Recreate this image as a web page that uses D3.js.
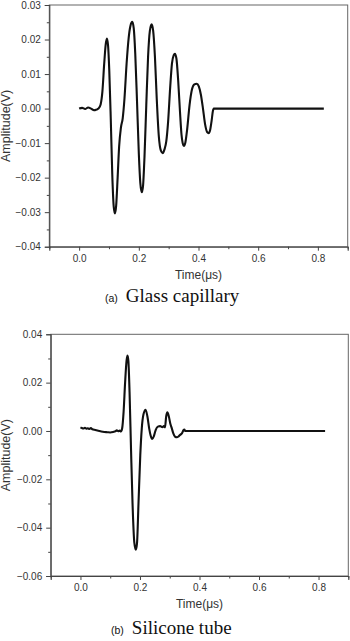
<!DOCTYPE html>
<html><head><meta charset="utf-8">
<script src="https://cdn.jsdelivr.net/npm/d3@7"></script>
<style>
html,body{margin:0;padding:0;background:#fff;}
svg{display:block;}
</style></head>
<body>
<svg id="c" width="350" height="641"></svg>
<script>
// ---------- DATA ----------
// Panel (a) Glass capillary
const timeA = [0.000,0.010,0.020,0.030,0.040,0.050,0.058,0.065,0.072,0.078,0.084,0.089,0.093,0.097,0.101,0.106,0.111,0.116,0.120,0.124,0.129,0.134,0.140,0.146,0.152,0.159,0.166,0.172,0.178,0.183,0.188,0.194,0.200,0.205,0.210,0.214,0.219,0.225,0.231,0.237,0.243,0.248,0.254,0.260,0.267,0.274,0.280,0.286,0.292,0.298,0.305,0.311,0.317,0.321,0.326,0.332,0.338,0.343,0.347,0.351,0.356,0.362,0.370,0.378,0.386,0.394,0.401,0.408,0.415,0.422,0.429,0.434,0.439,0.444,0.448,0.451,0.820];
const ampA  = [0.0000,0.0002,-0.0001,0.0003,0.0000,-0.0005,-0.0003,0.0000,0.0012,0.0050,0.0130,0.0185,0.0203,0.0182,0.0110,-0.0030,-0.0190,-0.0285,-0.0304,-0.0282,-0.0200,-0.0110,-0.0055,-0.0028,0.0030,0.0130,0.0205,0.0240,0.0251,0.0232,0.0160,0.0020,-0.0130,-0.0215,-0.0242,-0.0225,-0.0140,0.0010,0.0150,0.0225,0.0244,0.0226,0.0150,0.0030,-0.0080,-0.0122,-0.0129,-0.0118,-0.0095,-0.0040,0.0060,0.0130,0.0155,0.0159,0.0145,0.0080,-0.0010,-0.0075,-0.0100,-0.0108,-0.0098,-0.0060,0.0010,0.0055,0.0070,0.0072,0.0064,0.0040,0.0000,-0.0045,-0.0068,-0.0071,-0.0062,-0.0035,-0.0008,0.0000,0.0000];
// Panel (b) Silicone tube
const timeB = [0.000,0.005,0.010,0.015,0.020,0.025,0.030,0.035,0.040,0.050,0.060,0.070,0.080,0.090,0.100,0.110,0.118,0.122,0.127,0.132,0.136,0.140,0.145,0.150,0.155,0.158,0.161,0.165,0.170,0.175,0.181,0.186,0.190,0.195,0.201,0.206,0.212,0.219,0.225,0.231,0.236,0.241,0.247,0.253,0.260,0.268,0.275,0.280,0.284,0.288,0.292,0.297,0.302,0.306,0.312,0.318,0.324,0.330,0.336,0.341,0.346,0.349,0.352,0.822];
const ampB  = [0.0015,0.0012,0.0010,0.0013,0.0009,0.0011,0.0008,0.0012,0.0007,0.0004,0.0001,-0.0002,-0.0004,-0.0005,-0.0006,-0.0004,-0.0001,0.0003,-0.0001,0.0002,-0.0002,0.0010,0.0080,0.0200,0.0292,0.0312,0.0290,0.0160,-0.0080,-0.0300,-0.0462,-0.0491,-0.0465,-0.0300,-0.0100,0.0010,0.0070,0.0088,0.0060,0.0010,-0.0020,-0.0033,-0.0020,0.0005,0.0018,0.0020,0.0016,0.0020,0.0015,0.0060,0.0077,0.0060,0.0030,0.0015,-0.0010,-0.0024,-0.0026,-0.0022,-0.0015,-0.0010,0.0003,0.0006,0.0000,0.0000];

const xDomain = [-0.1, 0.9];
const xMajor = [0.0, 0.2, 0.4, 0.6, 0.8];
const xMinor = [-0.1, 0.1, 0.3, 0.5, 0.7, 0.9];
const yDomainA = [-0.04, 0.03];
const yMajorA = [-0.04,-0.03,-0.02,-0.01,0.00,0.01,0.02,0.03];
const yMinorA = [-0.035,-0.025,-0.015,-0.005,0.005,0.015,0.025];
const yDomainB = [-0.06, 0.04];
const yMajorB = [-0.06,-0.04,-0.02,0.00,0.02,0.04];
const yMinorB = [-0.05,-0.03,-0.01,0.01,0.03];
const xTitle = "Time(μs)";
const yTitle = "Amplitude(V)";
const captionTagA = "(a)", captionA = "Glass capillary";
const captionTagB = "(b)", captionB = "Silicone tube";

// ---------- DRAW ----------
const svg = d3.select("#c");
const SANS = "'Liberation Sans', Arial, sans-serif";
const SERIF = "'Liberation Serif', 'Times New Roman', serif";

function panel(o){
  const x = d3.scaleLinear().domain(xDomain).range([o.left, o.right]);
  const y = d3.scaleLinear().domain(o.yDomain).range([o.bottom, o.top]);
  const g = svg.append("g");

  g.append("rect").attr("x", o.left).attr("y", o.top)
    .attr("width", o.right - o.left).attr("height", o.bottom - o.top)
    .attr("fill","none").attr("stroke","#666").attr("stroke-width",1);

  const fmtY = d3.format(".2f"), fmtX = d3.format(".1f");
  g.append("g").attr("transform",`translate(0,${o.bottom})`)
    .call(d3.axisBottom(x).tickValues(xMajor).tickSize(4).tickPadding(4).tickFormat(fmtX));
  g.append("g").attr("transform",`translate(0,${o.bottom})`)
    .call(d3.axisBottom(x).tickValues(xMinor).tickSize(2.5).tickFormat(""))
    .call(s=>s.select(".domain").remove());
  g.append("g").attr("transform",`translate(${o.left},0)`)
    .call(d3.axisLeft(y).tickValues(o.yMajor).tickSize(4.5).tickPadding(4).tickFormat(fmtY));
  g.append("g").attr("transform",`translate(${o.left},0)`)
    .call(d3.axisLeft(y).tickValues(o.yMinor).tickSize(2.5).tickFormat(""))
    .call(s=>s.select(".domain").remove());

  g.selectAll(".domain").attr("stroke","#444").attr("stroke-width",1.1);
  g.selectAll(".tick line").attr("stroke","#444").attr("stroke-width",1);
  g.selectAll(".tick text").attr("fill","#333").style("font-family",SANS).style("font-size","10px");

  const pts = o.t.map((t,i)=>[t,o.v[i]]);
  const line = d3.line().x(d=>x(d[0])).y(d=>y(d[1])).curve(d3.curveMonotoneX);
  g.append("path").datum(pts).attr("d",line)
    .attr("fill","none").attr("stroke","#111").attr("stroke-width",2.1)
    .attr("stroke-linejoin","round");

  g.append("text").attr("x",x(0.4)).attr("y",o.bottom+32)
    .attr("text-anchor","middle").attr("fill","#333")
    .style("font-family",SANS).style("font-size","12px").text(xTitle);
  g.append("text").attr("transform",`translate(9.5,${(o.top+o.bottom)/2}) rotate(-90)`)
    .attr("text-anchor","middle").attr("fill","#333")
    .style("font-family",SANS).style("font-size","12.5px").text(yTitle);

  const cap = g.append("text").attr("y",o.capY).attr("fill","#111");
  cap.append("tspan").attr("x",o.capX).style("font-family",SANS).style("font-size","10.5px").text(o.tag);
  cap.append("tspan").attr("dx",8).style("font-family",SERIF).style("font-size","19px").text(o.caption);
}

panel({left:49.3, right:347.7, top:5, bottom:246.7, yDomain:yDomainA, yMajor:yMajorA, yMinor:yMinorA,
  t:timeA, v:ampA, tag:captionTagA, caption:captionA, capX:105, capY:302});
panel({left:50.7, right:348.3, top:334.3, bottom:576, yDomain:yDomainB, yMajor:yMajorB, yMinor:yMinorB,
  t:timeB, v:ampB, tag:captionTagB, caption:captionB, capX:111, capY:634});
</script>
</body></html>
